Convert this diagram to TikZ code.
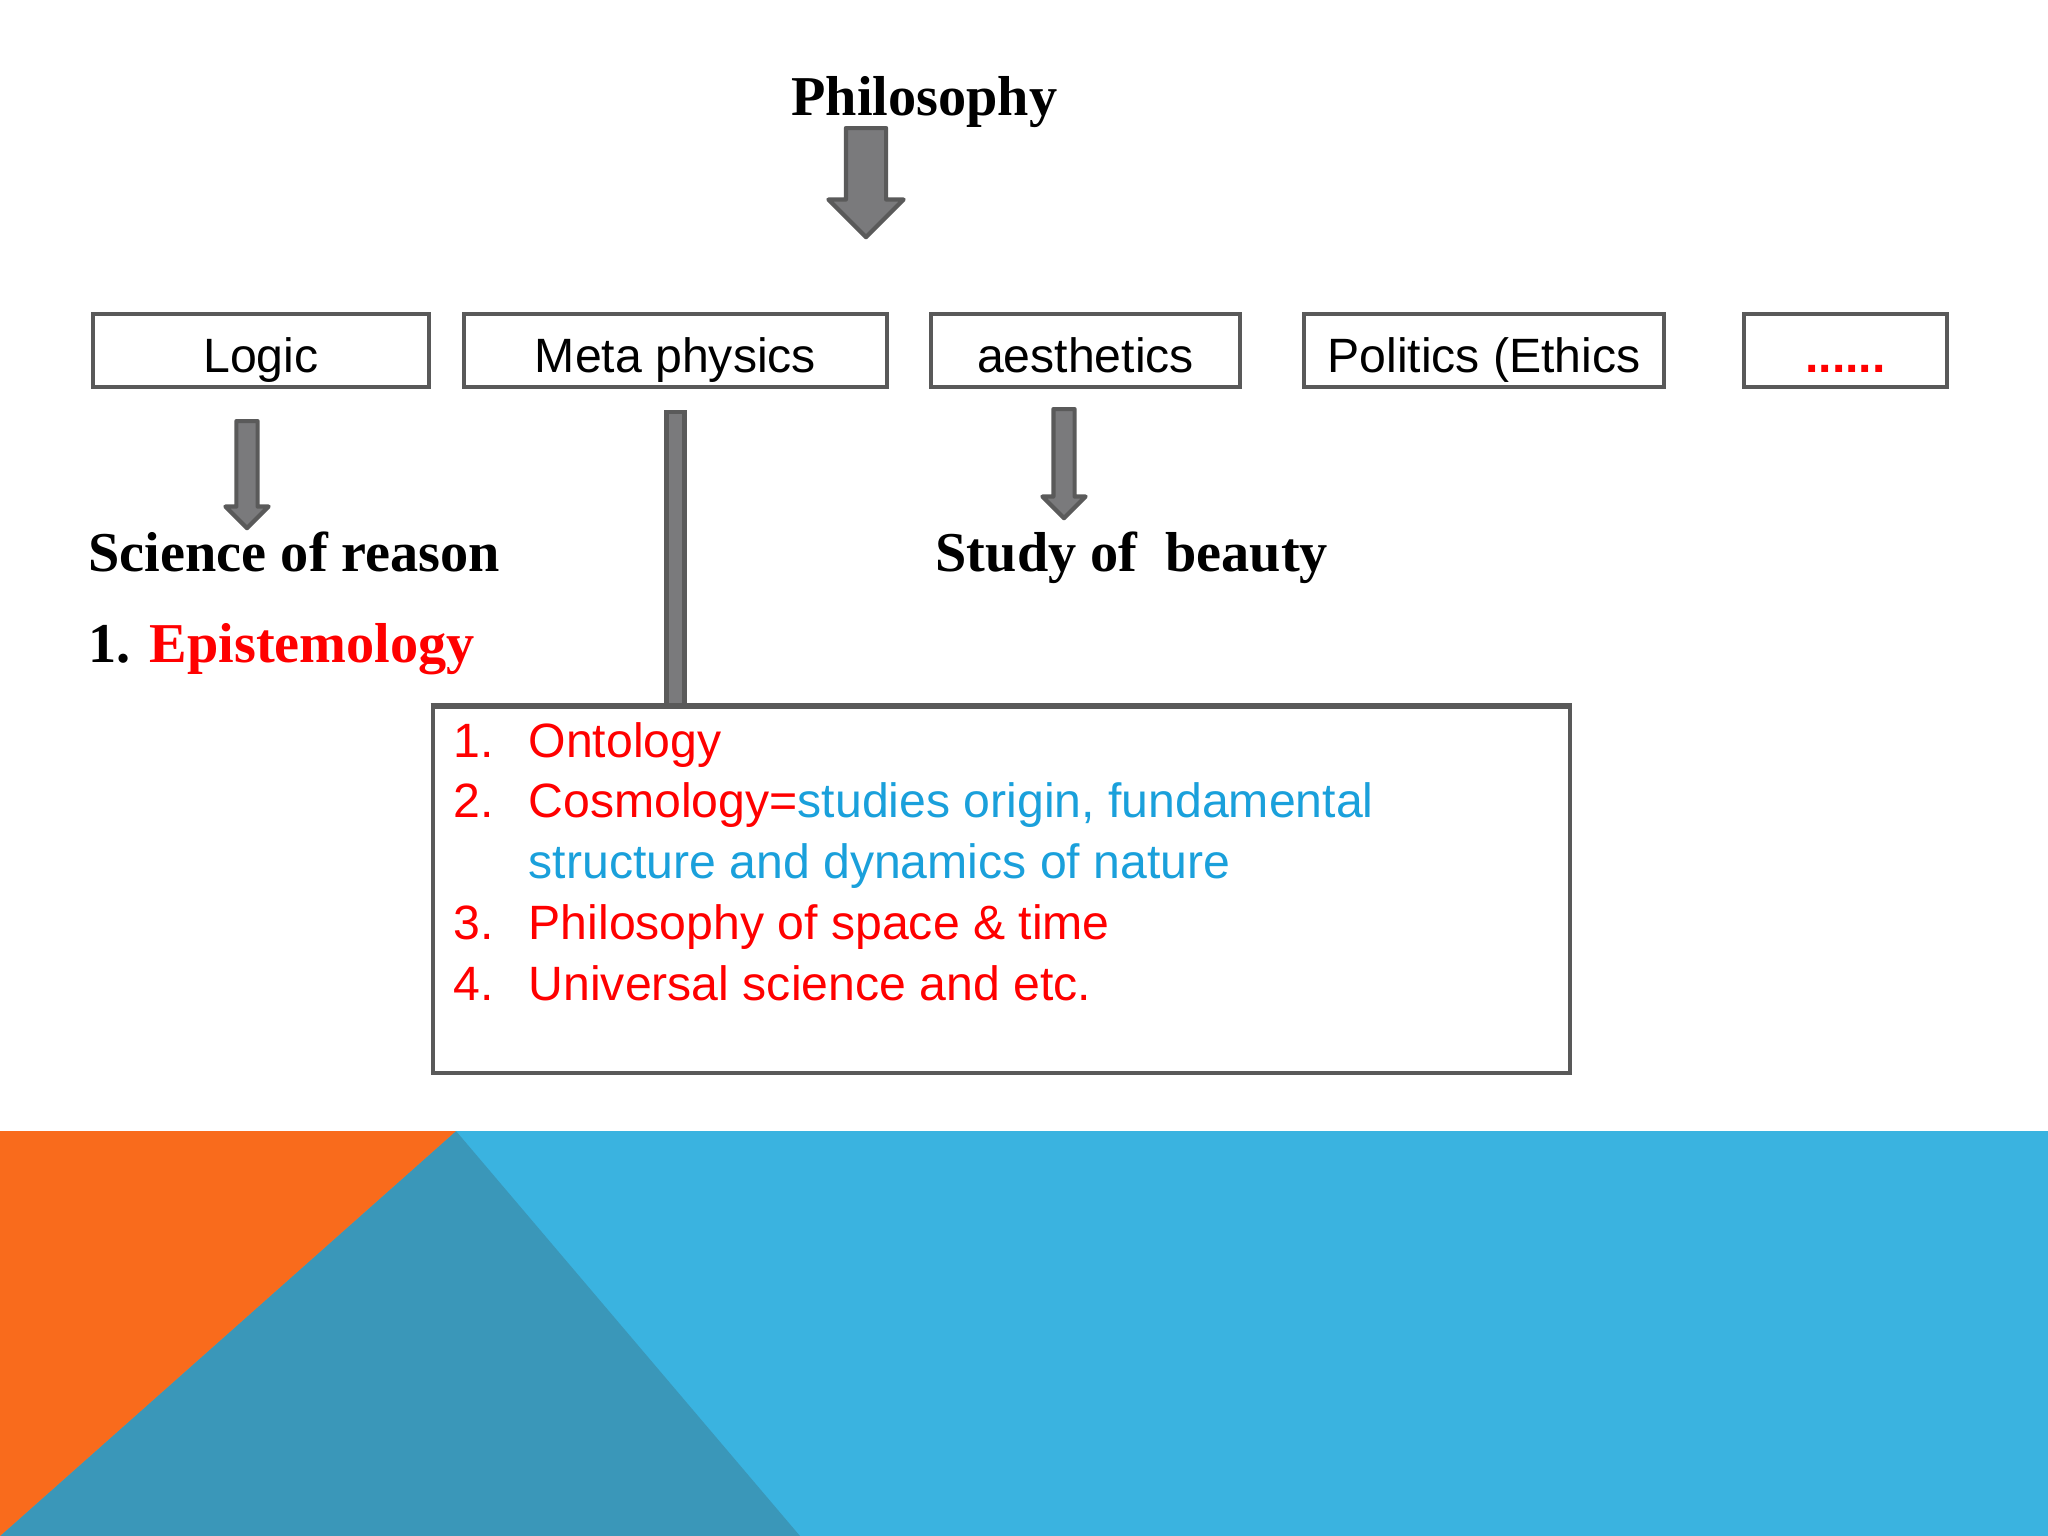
\documentclass[tikz,border=0pt]{standalone}
\usepackage{fontspec}
\setmainfont{Liberation Serif}
\setsansfont{Liberation Sans}
\usepackage{xcolor}
\usetikzlibrary{shapes.arrows}
\definecolor{slideorange}{HTML}{F96B1C}
\definecolor{slideblue}{HTML}{3AB3E0}
\definecolor{slideteal}{HTML}{3A97B9}
\definecolor{itemred}{HTML}{FF0000}
\definecolor{itemblue}{HTML}{1AA0DB}
\definecolor{arrowfill}{HTML}{7A7A7C}
\definecolor{arrowedge}{HTML}{5A5A5A}
\definecolor{boxedge}{HTML}{595959}

\begin{document}
\begin{tikzpicture}[x=0.01cm, y=-0.01cm,
		topicbox/.style={draw=boxedge, line width=1.2pt, minimum height=0.73cm,
				inner sep=0pt, text height=0.43cm, text depth=0cm,
				font=\sffamily\fontsize{13.7}{16}\selectfont},
		headline/.style={anchor=base west, inner sep=0pt,
				font=\bfseries\fontsize{16}{19}\selectfont},
		downarrow/.style={single arrow, draw=arrowedge, fill=arrowfill, anchor=tail,
				line width=1.2pt, line join=round, rotate=-90, inner xsep=0pt}]
		\useasboundingbox (0,0) rectangle (2048,1536);

		% coloured band at the bottom
		\fill[slideblue] (0,1131) rectangle (2048,1536);
		\fill[slideteal] (456,1131) -- (800,1536) -- (0,1536) -- cycle;
		\fill[slideorange] (0,1131) -- (456,1131) -- (0,1536) -- cycle;

		% title and its arrow
		\node[headline, anchor=base] (philo) at (924.5,115) {Philosophy};
		\node[downarrow, minimum height=1.09cm, inner ysep=0.18cm,
			single arrow head extend=0.175cm] (philoarrow) at (866,126) {};

		% row of branches
		\node[topicbox, minimum width=3.36cm] (logic) at (261,350.5) {Logic};
		\node[topicbox, minimum width=4.23cm] (meta) at (675.5,350.5) {Meta physics};
		\node[topicbox, minimum width=3.09cm] (aesth) at (1085.5,350.5) {aesthetics};
		\node[topicbox, minimum width=3.60cm] (polit) at (1484,350.5) {Politics (Ethics};
		\node[topicbox, minimum width=2.03cm] (more) at (1845.5,350.5) {\textcolor{itemred}{\bfseries ......}};

		% arrows below logic and aesthetics
		\node[downarrow, minimum height=1.07cm, inner ysep=0.085cm,
			single arrow head extend=0.11cm] (logicarrow) at (247,419) {};
		\node[downarrow, minimum height=1.09cm, inner ysep=0.085cm,
			single arrow head extend=0.11cm] (aestharrow) at (1064,407) {};

		\node[headline] (reason) at (88,571) {Science of reason};
		\node[headline] (episte) at (88,662) {1. \textcolor{itemred}{Epistemology}};
		\node[headline] (beauty) at (935,571) {Study of\ \ beauty};

		% list box hanging from meta physics
		\node[topicbox, minimum width=11.37cm, minimum height=3.66cm] (list) at (1001.5,890) {};
		\filldraw[draw=arrowedge, fill=arrowfill, line width=1.2pt]
		([xshift=-0.09cm, yshift=-0.23cm]meta.south) rectangle ([xshift=0.09cm]meta.south |- list.north);
		\draw[boxedge, line width=1.2pt] (list.north west) -- (list.north east);

		\node[anchor=base west, inner sep=0pt, align=left, text=itemred,
			font=\sffamily\fontsize{13.7}{17.3}\selectfont] (items) at (453,757)
		{\begin{tabular}[t]{@{}p{0.75cm}@{}l@{}}
				1. & Ontology                                                          \\
				2. & Cosmology=\textcolor{itemblue}{studies origin, fundamental}       \\
				   & \textcolor{itemblue}{structure and dynamics of nature}            \\
				3. & Philosophy of space \& time                                       \\
				4. & Universal science and etc.
			\end{tabular}};
	\end{tikzpicture}
\end{document}
